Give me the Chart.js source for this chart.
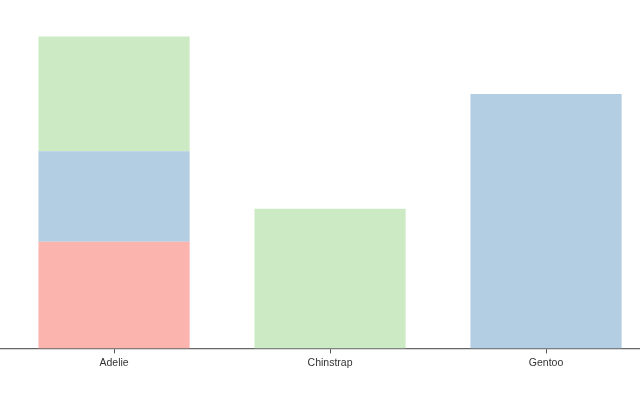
<!DOCTYPE html>
<html>
<head>
<meta charset="utf-8">
<script src="https://cdn.jsdelivr.net/npm/chart.js@4"></script>
<style>
  html, body { margin: 0; padding: 0; background: #fff; overflow: hidden; }
  #wrap { position: relative; width: 640px; height: 400px; }
</style>
</head>
<body>
<div id="wrap"><canvas id="c"></canvas></div>
<script>
const categories = ['Adelie', 'Chinstrap', 'Gentoo'];
const islands = ['Torgersen', 'Biscoe', 'Dream'];
const torgersen = [52, 0, 0];
const biscoe = [44, 0, 124];
const dream = [56, 68, 0];
const colors = ['#fbb4ae', '#b3cde3', '#ccebc5'];

const series = [torgersen, biscoe, dream];
const datasets = series.map((vals, k) => ({
  label: islands[k],
  data: vals.map((v, i) => ({ x: i, y: v })).filter(p => p.y > 0),
  backgroundColor: colors[k],
  borderWidth: 0,
  categoryPercentage: 1,
  barPercentage: 0.7
}));

new Chart(document.getElementById('c'), {
  type: 'bar',
  data: { datasets },
  options: {
    responsive: true,
    maintainAspectRatio: false,
    animation: false,
    layout: { padding: { top: 20, bottom: 28, left: 0, right: 0 } },
    plugins: { legend: { display: false }, tooltip: { enabled: false } },
    scales: {
      x: {
        type: 'linear',
        stacked: true,
        offset: false,
        min: -0.528,
        max: 2.435,
        afterBuildTicks: s => { s.ticks = categories.map((_, i) => ({ value: i })); },
        ticks: {
          autoSkip: false,
          maxRotation: 0,
          padding: 3,
          color: '#333',
          font: { family: 'Liberation Sans, Arial, sans-serif', size: 10.5 },
          callback: v => categories[v]
        },
        grid: { display: true, offset: false, drawOnChartArea: false, drawTicks: true, tickLength: 5, color: '#555' },
        border: { display: true, color: '#666', width: 1.2 }
      },
      y: {
        stacked: true,
        display: false,
        min: 0,
        max: 160
      }
    }
  }
});
</script>
</body>
</html>
